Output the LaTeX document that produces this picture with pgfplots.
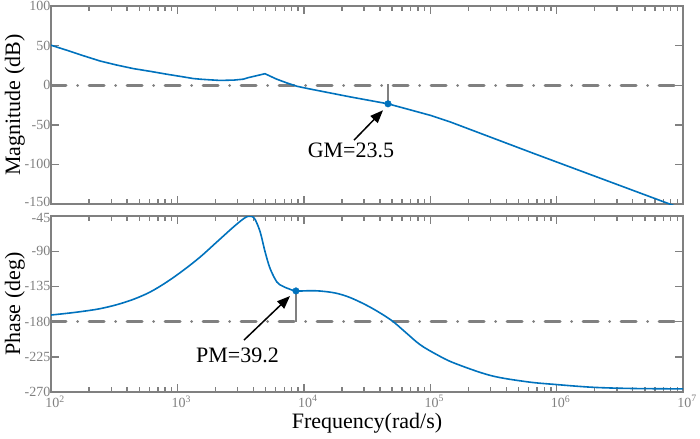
\documentclass[border=0pt]{standalone}
\usepackage{fontspec}
\setmainfont{Liberation Serif}
\usepackage{pgfplots}
\pgfplotsset{compat=1.18}
\usetikzlibrary{arrows.meta}
\definecolor{mblue}{HTML}{0072BD}
\definecolor{axgray}{HTML}{808080}
\pgfplotstableread{
f mag
100 50.5
133 44.2
178 37.5
245 30.5
330 25.5
447 21
620 17.3
822 13.9
1047 11.2
1337 8.4
1514 7.6
1800 6.8
2188 6.0
2818 6.5
3319 7.6
3631 9.5
4932 14.5
6026 8
7328 2.9
8790 -1.3
10715 -4.2
23174 -14.7
46345 -23.5
100000 -38
143549 -46.3
654636 -86
8300000 -151.5
10000000 -157
}\magtable
\pgfplotstableread{
f ph
100 -171.6
141 -169
186 -166.5
244 -163.5
331 -158.4
449 -151.5
608 -142.2
824 -129.4
1114 -114.4
1514 -97.4
2051 -78.2
2773 -59.1
3334 -48.5
3631 -45.3
3890 -45.6
4121 -49.5
4519 -65.5
4943 -91
5420 -112.4
6124 -129.4
6761 -134.5
7534 -137.8
8670 -140.8
11194 -140.5
13428 -140.9
17783 -143.5
23442 -149.5
33884 -162
48978 -178
63096 -193
83176 -209.5
112202 -222
154882 -233
301995 -249
588844 -257
1000000 -260.5
1950000 -264
3980000 -265.5
10000000 -266
}\phtable
\begin{document}
\begin{tikzpicture}
\path[use as bounding box] (0,0) rectangle (700bp,-439bp);
\begin{axis}[
  scale only axis, width=632bp, height=198bp,
  at={(51bp,-6bp)}, anchor=north west,
  xmode=log, xmin=100, xmax=10000000,
  axis line style={axgray, line width=2.2bp},
  tick style={axgray, line width=1.4bp},
  major tick length=8bp, minor tick length=5bp,
  tick align=inside,
  xtick={100,1000,10000,100000,1000000,10000000},
  xticklabels={},
  ymin=-150, ymax=100, ytick={-100,-50,0,50,100},
  yticklabels={-100,-50,0,50,100},
  extra y ticks={-150}, extra y tick labels={-150},
  extra y tick style={yticklabel style={yshift=2bp}},
  ticklabel style={font=\fontsize{14bp}{16bp}\selectfont, text=axgray},
  yticklabel style={inner sep=0.5bp},
  label style={font=\fontsize{22bp}{26bp}\selectfont, text=black},
  ylabel style={at={(axis description cs:-0.057,0.5)}, anchor=center},
  ylabel={Magnitude (dB)}]
\addplot[axgray, line width=3bp, line cap=round,
    dash pattern=on 15bp off 11.5bp on 0.01bp off 11.5bp] coordinates {(100,0) (10000000,0)};
\addplot[axgray, line width=1.5bp] coordinates {(46345,-23.5) (46345,1)};
\addplot[mblue, line width=1.6bp] table[x=f, y=mag] {\magtable};
\addplot[only marks, mark=*, mark size=3.3bp, mblue] coordinates {(46345,-23.5)};
\draw[black, line width=1.5bp, -{Triangle[length=13bp,width=10bp]}]
  (axis cs:24950,-69.4) -- (axis cs:42360,-31.6);
\node[font=\fontsize{22bp}{26bp}\selectfont] at (axis cs:23600,-82) {GM=23.5};
\end{axis}
\begin{axis}[
  scale only axis, width=632bp, height=176bp,
  at={(51bp,-216bp)}, anchor=north west,
  xmode=log, xmin=100, xmax=10000000,
  axis line style={axgray, line width=2.2bp},
  tick style={axgray, line width=1.4bp},
  major tick length=8bp, minor tick length=5bp,
  tick align=inside,
  xtick={100,1000,10000,100000,1000000,10000000},
  xticklabels={10\textsuperscript{2},10\textsuperscript{3},10\textsuperscript{4},10\textsuperscript{5},10\textsuperscript{6},10\textsuperscript{7}},
  xticklabel style={xshift=4bp},
  ymin=-270, ymax=-45, ytick={-270,-225,-180,-135,-90},
  yticklabels={-270,-225,-180,-135,-90},
  extra y ticks={-45}, extra y tick labels={-45},
  extra y tick style={yticklabel style={yshift=-1.5bp}},
  ticklabel style={font=\fontsize{14bp}{16bp}\selectfont, text=axgray},
  yticklabel style={inner sep=0.5bp},
  label style={font=\fontsize{22bp}{26bp}\selectfont, text=black},
  ylabel style={at={(axis description cs:-0.057,0.5)}, anchor=center},
  ylabel={Phase (deg)},
  xlabel={Frequency(rad/s)},
  xlabel style={at={(axis description cs:0.5,-0.176)}, anchor=center}]
\addplot[axgray, line width=3bp, line cap=round,
    dash pattern=on 15bp off 11.5bp on 0.01bp off 11.5bp] coordinates {(100,-180) (10000000,-180)};
\addplot[axgray, line width=1.5bp] coordinates {(8670,-140.8) (8670,-180)};
\addplot[mblue, line width=1.6bp, smooth, tension=0.55] table[x=f, y=ph] {\phtable};
\addplot[only marks, mark=*, mark size=3.3bp, mblue] coordinates {(8670,-140.8)};
\draw[black, line width=1.5bp, -{Triangle[length=13bp,width=10bp]}]
  (axis cs:3365,-203.6) -- (axis cs:7780,-147.3);
\node[font=\fontsize{22bp}{26bp}\selectfont] at (axis cs:2985,-222.7) {PM=39.2};
\end{axis}
\end{tikzpicture}
\end{document}
